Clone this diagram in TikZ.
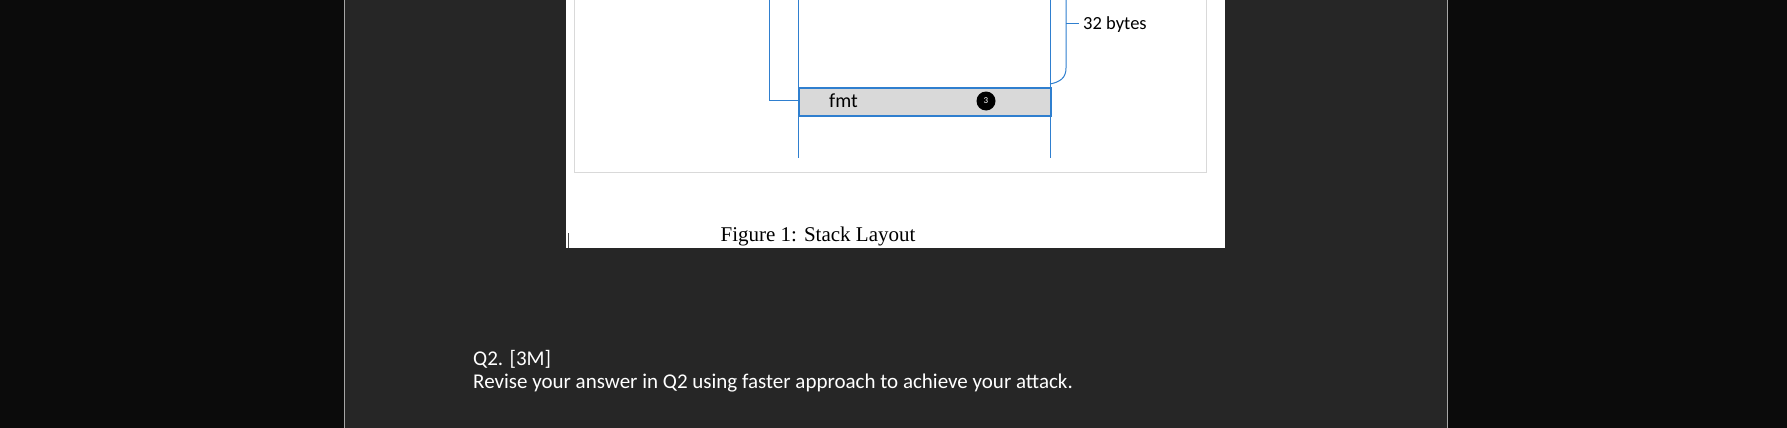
\documentclass[tikz,border=0pt]{standalone}
\usepackage{fontspec}
\setmainfont{Carlito}
\newfontfamily\serifc{Liberation Serif}
\definecolor{bgk}{HTML}{0B0B0B}
\definecolor{panel}{HTML}{262626}
\definecolor{blu}{HTML}{2F7FCF}
\definecolor{boxg}{HTML}{D9D9D9}
\begin{document}
\begin{tikzpicture}[x=1pt,y=-1pt,
  bl/.style={draw=blu,line width=1pt},
  wt/.style={text=white,font=\fontsize{21}{25}\selectfont,anchor=west,inner sep=0}]
\useasboundingbox (0,0) rectangle (1787,428);
\fill[bgk] (0,0) rectangle (1787,428);
\fill[panel] (344,0) rectangle (1447,428);
\draw[gray!70] (344,0) -- (344,428) (1447,0) -- (1447,428);
\fill[white] (566,0) rectangle (1225,248);
\draw[gray!30,line width=1pt] (574,-2) -- (574,172) -- (1206,172) -- (1206,-2);
% blue lines
\draw[bl] (798,0) -- (798,158);
\draw[bl] (1050,0) -- (1050,158);
\draw[bl] (769,0) -- (769,100) -- (798,100);
\node[draw=blu,line width=1.6pt,fill=boxg,minimum width=252pt,minimum height=28pt,anchor=north west,inner sep=0] (fmt) at (798,87) {};
\node[anchor=west,font=\fontsize{20}{24}\selectfont,inner sep=0] (ft) at (829,101) {fmt};
\node[circle,fill=black,minimum size=19pt,inner sep=0,text=white,font=\fontsize{9}{10}\selectfont] (c3) at (986,101) {3};
\draw[bl] (1066,0) -- (1066,68) .. controls (1066,78) and (1060,82) .. (1050,84);
\coordinate (tk) at (1066,24);
\draw[bl] (tk) -- ++(13,0);
\node[anchor=west,font=\fontsize{18.5}{22}\selectfont,inner sep=0] (by) at (1083,25) {32 bytes};
\node[font=\serifc\fontsize{21}{24}\selectfont,inner sep=0] (cap) at (818,236) {Figure 1: Stack Layout};
\draw[black!70] (568,233) -- (568,248);
\node[wt] (q2) at (473,359) {Q2. [3M]};
\node[wt] (rv) at (473,383) {Revise your answer in Q2 using faster approach to achieve your attack.};
\end{tikzpicture}
\end{document}
